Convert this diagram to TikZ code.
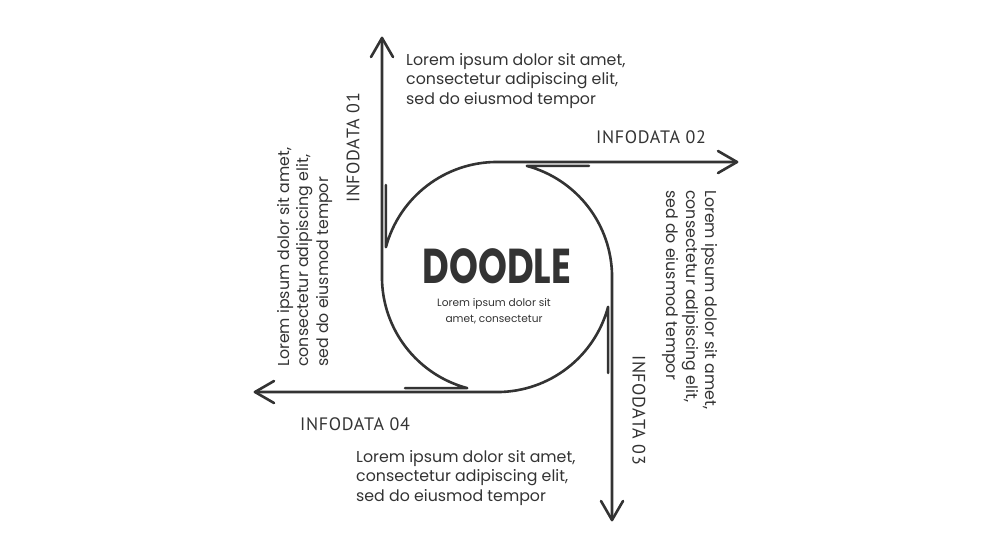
\documentclass[tikz,border=0pt]{standalone}
\usepackage{fontspec}
\setmainfont{Poppins}
\newfontfamily\labelfont[LetterSpace=4]{PT Sans}
\newfontfamily\titlefont[FakeStretch=0.75]{Poppins}
\definecolor{ink}{HTML}{333333}
\tikzset{
  pen/.style={ink, line width=2.6pt, line join=round, line cap=round},
  tag/.style={font=\labelfont\fontsize{18}{20}\selectfont, text=ink},
  note/.style={font=\fontsize{15.8}{19.5}\selectfont, text=ink, align=left},
  title/.style={font=\titlefont\bfseries\fontsize{49}{50}\selectfont, text=ink, text depth=0pt},
  subnote/.style={font=\fontsize{10.6}{16}\selectfont, text=ink, align=center}
}

\begin{document}
\begin{tikzpicture}[x=1pt,y=1pt]
\tikzstyle{every node}+=[inner sep=0pt]
\useasboundingbox (0,0) rectangle (992,-558);
% arrow 01 (up)
\draw [pen] (405,-388.1) -- (467.2,-388.1) arc (255:180:115) -- (382,-38);
\draw [pen] (371,-57) -- (382,-38) -- (393,-57);
% arrow 02 (right)
\draw [pen] (385.9,-185) -- (385.9,-247.2) arc (165:90:115) -- (737,-162);
\draw [pen] (718,-151) -- (737,-162) -- (718,-173);
% arrow 03 (down)
\draw [pen] (589,-165.9) -- (526.8,-165.9) arc (75:0:115) -- (612,-520);
\draw [pen] (601,-501) -- (612,-520) -- (623,-501);
% arrow 04 (left)
\draw [pen] (608.1,-373) -- (608.1,-306.8) arc (-15:-90:115) -- (255,-392);
\draw [pen] (274,-381) -- (255,-392) -- (274,-403);
% centre
\node [title, anchor=base] (doodle) at (497,-283) {DOODLE};
\node [subnote] (sub) at (494,-311) {Lorem ipsum dolor sit\\amet, consectetur};
% labels
\node [tag, rotate=90] (info01) at (353,-148) {INFODATA 01};
\node [tag] (info02) at (651,-137) {INFODATA 02};
\node [tag, rotate=-90] (info03) at (639,-410) {INFODATA 03};
\node [tag] (info04) at (355,-424) {INFODATA 04};
% texts
\node [note, anchor=west] (text01) at (406,-81) {Lorem ipsum dolor sit amet,\\consectetur adipiscing elit,\\sed do eiusmod tempor};
\node [note, anchor=west, rotate=-90] (text02) at (690,-190) {Lorem ipsum dolor sit amet,\\consectetur adipiscing elit,\\sed do eiusmod tempor};
\node [note, anchor=west] (text03) at (356,-478) {Lorem ipsum dolor sit amet,\\consectetur adipiscing elit,\\sed do eiusmod tempor};
\node [note, anchor=west, rotate=90] (text04) at (305,-367) {Lorem ipsum dolor sit amet,\\consectetur adipiscing elit,\\sed do eiusmod tempor};
\end{tikzpicture}
\end{document}
